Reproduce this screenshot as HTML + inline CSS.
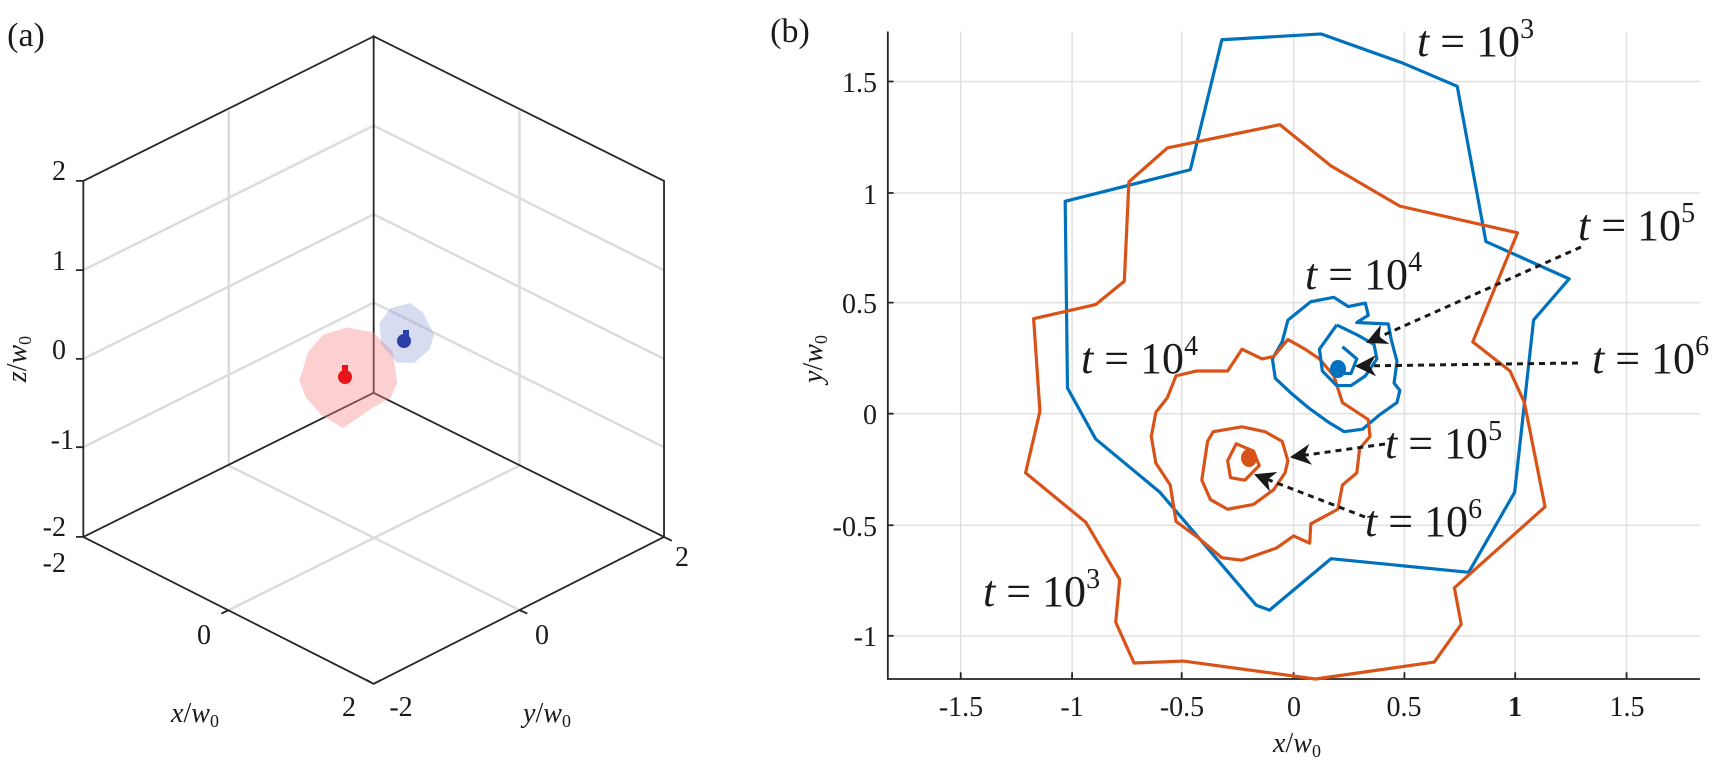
<!DOCTYPE html>
<html><head><meta charset="utf-8"><style>
html,body{margin:0;padding:0;background:#fff;}
svg{display:block;font-family:"Liberation Serif",serif;}
</style></head><body>
<svg width="1725" height="760" viewBox="0 0 1725 760" xmlns="http://www.w3.org/2000/svg">
<defs>
<marker id="ah" viewBox="0 0 10 10" refX="9" refY="5" markerWidth="7" markerHeight="7" orient="auto" markerUnits="strokeWidth">
<path d="M0,0 L10,5 L0,10 L3,5 Z" fill="#1a1a1a"/>
</marker>
</defs>
<!-- Panel a -->
<g transform="matrix(0.434,0,0,0.485,0,0)" fill="none">
 <g stroke="#dcdcdc" stroke-width="2.5">
  <path vector-effect="non-scaling-stroke" d="M527,228 L527,960 M1197,228 L1197,960"/>
  <path vector-effect="non-scaling-stroke" d="M192,557 L861,259 M192,740 L861,442 M192,922 L861,624"/>
  <path vector-effect="non-scaling-stroke" d="M861,259 L1530,557 M861,442 L1530,740 M861,624 L1530,922"/>
  <path vector-effect="non-scaling-stroke" d="M527,1258 L1197,960 M1197,1258 L527,960"/>
 </g>
 <path vector-effect="non-scaling-stroke" stroke="#262626" stroke-width="1.8" d="M861,75 L192,373 L192,1107 L861,1410 L1530,1107 L1530,373 L861,75 L861,810 L192,1107 M861,810 L1530,1107 M175,373 L192,373 M175,557 L192,557 M175,740 L192,740 M175,922 L192,922 M175,1107 L192,1107 M510,1265 L527,1258 M1197,1258 L1215,1265 M845,1402 L861,1410 L878,1402 M1530,1107 L1548,1115"/>
 <path fill="#f78a8a" fill-opacity="0.4" d="M745,690 L800,675 L860,685 L905,725 L915,790 L900,820 L860,840 L790,883 L740,855 L705,820 L690,785 L710,725 Z"/>
 <path fill="#8c9ad4" fill-opacity="0.35" d="M900,635 L945,625 L975,645 L1000,690 L990,720 L955,748 L915,748 L878,710 L875,665 Z"/>
</g>
<circle cx="345" cy="377" r="7" fill="#e8141b"/><rect x="342" y="365" width="6" height="6" fill="#e8141b"/>
<circle cx="404" cy="341" r="7" fill="#2a3fa8"/><rect x="403" y="330" width="6" height="6" fill="#2a3fa8"/>
<g font-size="28" fill="#1a1a1a">
<text x="26" y="46" font-size="34" text-anchor="middle">(a)</text>
<text x="66" y="180" text-anchor="end">2</text>
<text x="66" y="270" text-anchor="end">1</text>
<text x="66" y="359" text-anchor="end">0</text>
<text x="74" y="449" text-anchor="end">-1</text>
<text x="66" y="536" text-anchor="end">-2</text>
<text x="66" y="572" text-anchor="end">-2</text>
<text x="204" y="644" text-anchor="middle">0</text>
<text x="349" y="716" text-anchor="middle">2</text>
<text x="401" y="716" text-anchor="middle">-2</text>
<text x="542" y="644" text-anchor="middle">0</text>
<text x="682" y="566" text-anchor="middle">2</text>
<text x="195" y="722" text-anchor="middle"><tspan font-style="italic">x</tspan>/<tspan font-style="italic">w</tspan><tspan font-size="18" dy="5">0</tspan></text>
<text x="547" y="722" text-anchor="middle"><tspan font-style="italic">y</tspan>/<tspan font-style="italic">w</tspan><tspan font-size="18" dy="5">0</tspan></text>
<text transform="translate(26,359) rotate(-90)" text-anchor="middle"><tspan font-style="italic">z</tspan>/<tspan font-style="italic">w</tspan><tspan font-size="18" dy="5">0</tspan></text>
</g>
<!-- Panel b -->
<g transform="matrix(0.574,0,0,0.485,800,0)" fill="none">
 <path vector-effect="non-scaling-stroke" stroke="#e0e0e0" stroke-width="1.5" d="M280,65 V1400 M474,65 V1400 M665,65 V1400 M860,65 V1400 M1053,65 V1400 M1246,65 V1400 M1440,65 V1400 M153,168 H1568 M153,398 H1568 M153,624 H1568 M153,853 H1568 M153,1083 H1568 M153,1311 H1568"/>
 <path vector-effect="non-scaling-stroke" stroke="#262626" stroke-width="1.8" d="M153,65 V1400 H1568 M280,1400 v-14 M474,1400 v-14 M665,1400 v-14 M860,1400 v-14 M1053,1400 v-14 M1246,1400 v-14 M1440,1400 v-14 M153,168 h10 M153,398 h10 M153,624 h10 M153,853 h10 M153,1083 h10 M153,1311 h10"/>
 <g stroke-width="3.2" stroke-linejoin="round">
 <path vector-effect="non-scaling-stroke" stroke="#0072BD" d="M735,82 L908,70 L1050,130 L1145,178 L1195,498 L1340,575 L1278,660 L1245,1015 L1165,1180 L925,1152 L818,1258 L795,1248 L627,1015 L515,905 L466,800 L462,415 L680,350 Z"/>
 <path vector-effect="non-scaling-stroke" stroke="#D95319" d="M836,257 L925,342 L1045,425 L1250,480 L1172,705 L1237,765 L1262,830 L1298,1045 L1140,1212 L1152,1287 L1105,1365 L898,1400 L668,1363 L582,1367 L550,1283 L557,1195 L498,1077 L393,975 L418,848 L407,657 L515,628 L565,580 L573,375 L640,305 Z"/>
 <path vector-effect="non-scaling-stroke" stroke="#0072BD" d="M850,660 L890,622 L930,613 L955,632 L985,625 L990,650 L970,665 L1025,668 L1030,700 L1040,745 L1035,790 L1045,805 L1040,830 L1010,855 L980,885 L948,890 L920,870 L885,840 L855,810 L828,780 L823,740 L840,705 Z"/>
 <path vector-effect="non-scaling-stroke" stroke="#D95319" d="M850,700 L880,720 L905,740 L930,775 L945,830 L990,865 L993,900 L975,925 L970,975 L945,1000 L937,1050 L890,1080 L888,1120 L860,1105 L830,1130 L770,1155 L735,1150 L695,1110 L655,1075 L645,1000 L620,955 L612,900 L620,850 L640,820 L655,775 L690,765 L745,765 L770,720 L805,740 L825,735 Z"/>
 <path vector-effect="non-scaling-stroke" stroke="#0072BD" d="M935,670 L970,690 L1000,710 L1005,740 L985,775 L960,795 L935,795 L910,765 L905,720 L935,670 M945,715 L970,740 L960,770 L940,770 L930,745"/>
 <path vector-effect="non-scaling-stroke" stroke="#D95319" d="M720,890 L770,880 L810,890 L840,910 L850,950 L845,975 L825,1010 L790,1040 L745,1050 L715,1030 L700,990 L705,950 L710,910 Z M760,915 L790,930 L800,960 L775,990 L750,985 L745,950 Z"/>
 </g>
</g>
<ellipse cx="1338" cy="369" rx="8" ry="9" fill="#0072BD"/>
<ellipse cx="1249" cy="458" rx="8" ry="9" fill="#D95319"/>
<g stroke="#1a1a1a" stroke-width="3" stroke-dasharray="6,5" fill="none">
<line x1="1581" y1="247" x2="1368" y2="342" marker-end="url(#ah)"/>
<line x1="1578" y1="363" x2="1357" y2="366" marker-end="url(#ah)"/>
<line x1="1385" y1="444" x2="1292" y2="457" marker-end="url(#ah)"/>
<line x1="1365" y1="517" x2="1256" y2="475" marker-end="url(#ah)"/>
</g>
<g font-size="28" fill="#1a1a1a">
<text x="790" y="42" font-size="34" text-anchor="middle">(b)</text>
<text x="877" y="92" text-anchor="end">1.5</text>
<text x="877" y="204" text-anchor="end">1</text>
<text x="877" y="313" text-anchor="end">0.5</text>
<text x="877" y="424" text-anchor="end">0</text>
<text x="877" y="536" text-anchor="end">-0.5</text>
<text x="877" y="646" text-anchor="end">-1</text>
<g text-anchor="middle">
<text x="961" y="716">-1.5</text><text x="1072" y="716">-1</text><text x="1182" y="716">-0.5</text><text x="1294" y="716">0</text><text x="1404" y="716">0.5</text><text x="1515" y="716" font-weight="bold">1</text><text x="1627" y="716">1.5</text>
<text x="1297" y="752"><tspan font-style="italic">x</tspan>/<tspan font-style="italic">w</tspan><tspan font-size="18" dy="5">0</tspan></text>
<text transform="translate(822,359) rotate(-90)"><tspan font-style="italic">y</tspan>/<tspan font-style="italic">w</tspan><tspan font-size="18" dy="5">0</tspan></text>
</g>
</g>
<g font-size="44" fill="#1a1a1a">
<text x="1417" y="56"><tspan font-style="italic">t</tspan> = 10<tspan font-size="28" dy="-18">3</tspan></text>
<text x="1578" y="240"><tspan font-style="italic">t</tspan> = 10<tspan font-size="28" dy="-18">5</tspan></text>
<text x="1305" y="289"><tspan font-style="italic">t</tspan> = 10<tspan font-size="28" dy="-18">4</tspan></text>
<text x="1081" y="373"><tspan font-style="italic">t</tspan> = 10<tspan font-size="28" dy="-18">4</tspan></text>
<text x="1592" y="373"><tspan font-style="italic">t</tspan> = 10<tspan font-size="28" dy="-18">6</tspan></text>
<text x="1385" y="458"><tspan font-style="italic">t</tspan> = 10<tspan font-size="28" dy="-18">5</tspan></text>
<text x="1365" y="536"><tspan font-style="italic">t</tspan> = 10<tspan font-size="28" dy="-18">6</tspan></text>
<text x="983" y="606"><tspan font-style="italic">t</tspan> = 10<tspan font-size="28" dy="-18">3</tspan></text>
</g>
</svg>
</body></html>
